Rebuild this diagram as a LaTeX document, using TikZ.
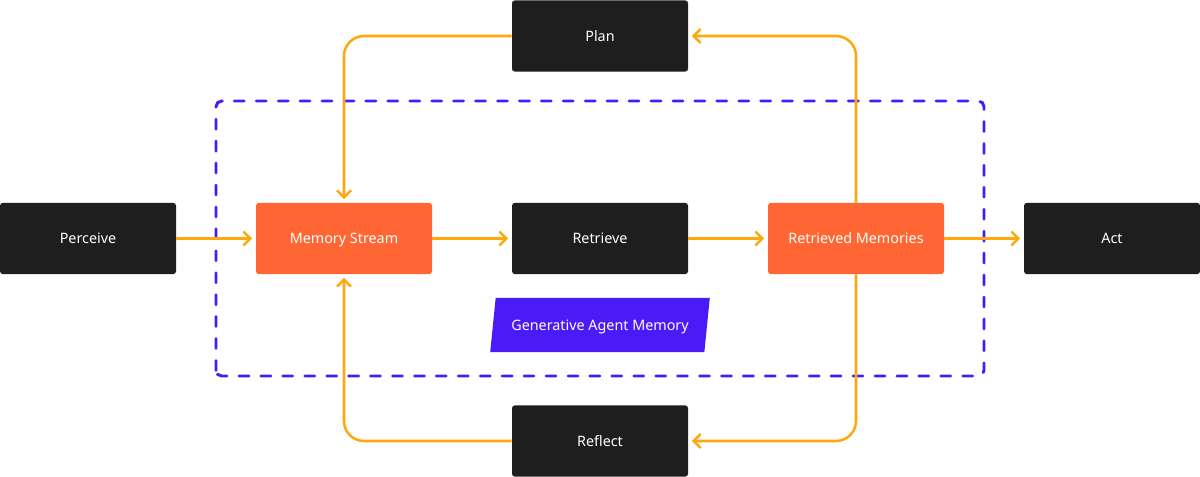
\documentclass[tikz,border=0pt]{standalone}
\usepackage{fontspec}
\setmainfont{Noto Sans}
\usetikzlibrary{positioning,shapes.geometric,arrows.meta}
\definecolor{boxblack}{HTML}{1E1E1E}
\definecolor{memorange}{HTML}{FF6634}
\definecolor{agentblue}{HTML}{4A1AF8}
\definecolor{flowyellow}{HTML}{FFA70F}

\begin{document}
\begin{tikzpicture}[node distance=6.4cm, on grid, auto]
\tikzstyle{every node}=[font=\fontsize{10.2}{12}\selectfont, text=white, text height=1.45ex, text depth=0.1ex]
\tikzstyle{box}=[rectangle, rounded corners=2pt, fill=boxblack, minimum width=4.4cm, minimum height=1.78cm]
\tikzstyle{membox}=[box, fill=memorange]
\tikzstyle{agent}=[trapezium, trapezium left angle=77, trapezium right angle=103, trapezium stretches=true, fill=agentblue, minimum width=5.5cm, minimum height=1.35cm]
\tikzstyle{flow}=[draw=flowyellow, line width=1.8pt, rounded corners=0.5cm, shorten >=2.5pt, -{Straight Barb[length=5pt,width=10pt]}]
\useasboundingbox (0,-5.9625) rectangle (30,5.9625);
   % memory frame
   \draw[agentblue, line width=2.1pt, line cap=round, dash pattern=on 7pt off 8.6pt, rounded corners=4pt] (5.4,-3.4375) rectangle (24.6,3.4375);
   \node[box](perceive) at (2.2,0){Perceive};
   \node[membox](stream)[right=of perceive]{Memory Stream};
   \node[box](retrieve)[right=of stream]{Retrieve};
   \node[membox](memories)[right=of retrieve]{Retrieved Memories};
   \node[box](act)[right=of memories]{Act};
   \node[box](plan)[above=5.0625cm of retrieve]{Plan};
   \node[box](reflect)[below=5.0625cm of retrieve]{Reflect};
   \node[agent](agentmem)[below=2.1625cm of retrieve]{Generative Agent Memory};
   \path[flow](perceive) edge (stream);
   \path[flow](stream) edge (retrieve);
   \path[flow](retrieve) edge (memories);
   \path[flow](memories) edge (act);
   \draw[flow](memories.north) |- (plan.east);
   \draw[flow](plan.west) -| (stream.north);
   \draw[flow](memories.south) |- (reflect.east);
   \draw[flow](reflect.west) -| (stream.south);
\end{tikzpicture}
\end{document}
